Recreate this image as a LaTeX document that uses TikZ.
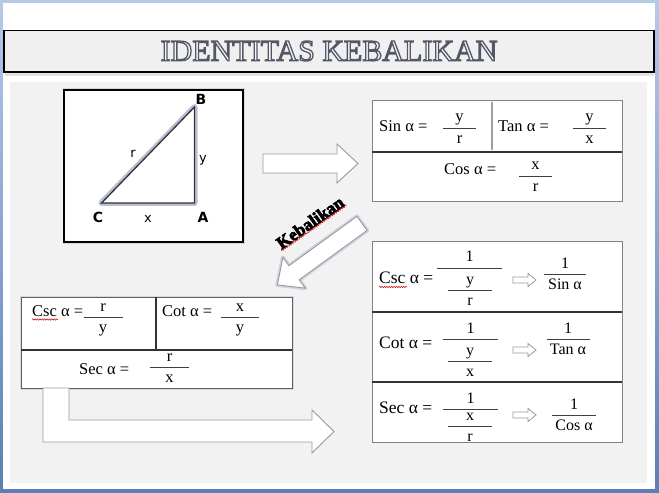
\documentclass[tikz,border=0pt]{standalone}
\usepackage{fontspec}
\setmainfont{Liberation Serif}
\newfontfamily\segitigafont{DejaVu Sans}
\usetikzlibrary{decorations.pathmorphing}

\definecolor{biruatas}{HTML}{B4CAE8}
\definecolor{birubawah}{HTML}{5A7FB6}
\definecolor{panel}{HTML}{F2F2F2}
\definecolor{judulbg}{HTML}{F0F0F0}
\definecolor{judulisi}{HTML}{F3F6FB}
\definecolor{garistabel}{HTML}{8A7F7E}
\definecolor{panahgaris}{HTML}{9A9A9A}
\definecolor{bayangan}{HTML}{B9BDD6}

\newcommand{\hurufA}{\fontsize{16.5bp}{19bp}\selectfont}
\newcommand{\hurufB}{\fontsize{17.5bp}{20bp}\selectfont}
\newcommand{\hurufC}{\fontsize{16bp}{19bp}\selectfont}
% huruf bergaris tepi (isi terang, tepi gelap)
\newcommand{\garistepi}[2]{\special{pdf:literal direct 2 Tr #1 w #2 RG}}
\newcommand{\garistepiselesai}{\special{pdf:literal direct 0 Tr}}

\tikzset{
  tulisan/.style={font=\hurufA, inner sep=0pt, anchor=base west},
  pecah/.style={font=\hurufA, inner sep=0pt, anchor=base},
  garisbagi/.style={line width=0.7bp, black!75},
  tabel/.style={draw=garistabel, fill=white, line width=0.9bp},
  sekat/.style={draw=black!80, line width=1.2bp},
  panahbesar/.style={draw=panahgaris, fill=white, line width=0.9bp, line join=miter},
  panahkecil/.style={draw=panahgaris, fill=white, line width=0.8bp},
  ombak/.style={draw=red!80!black, line width=0.5bp, decorate,
    decoration={snake, amplitude=0.7bp, segment length=2.4bp}},
  judul/.style={font=\fontsize{30bp}{32bp}\selectfont, inner sep=0pt},
  huruftitik/.style={font=\segitigafont\bfseries\fontsize{14bp}{16bp}\selectfont, inner sep=0pt},
  hurufsisi/.style={font=\segitigafont\fontsize{13bp}{15bp}\selectfont, inner sep=0pt},
}

% pembilang dengan garis bagi
\newcommand{\pembilang}[5]{%
  \draw[garisbagi] (#2-#4,#3) -- (#2+#4,#3);
  \node[pecah] (#1-atas) at (#2,#3-6) {#5};}
% pecahan lengkap
\newcommand{\pecahan}[6]{%
  \pembilang{#1}{#2}{#3}{#4}{#5}
  \node[pecah] (#1-bawah) at (#2,#3+15.5) {#6};}
% panah kecil berongga
\newcommand{\panahkecil}[2]{%
  \draw[panahkecil] (#1-11.5,#2-3) -- (#1+3.5,#2-3) -- (#1+3.5,#2-6.5) -- (#1+11.5,#2)
    -- (#1+3.5,#2+6.5) -- (#1+3.5,#2+3) -- (#1-11.5,#2+3) -- cycle;}

\begin{document}
\begin{tikzpicture}[x=1bp, y=-1bp]
  \useasboundingbox (0,0) rectangle (659,493);

  % Latar
  \shade[top color=biruatas, bottom color=birubawah] (0,0) rectangle (659,493);
  \fill[white] (3,3) rectangle (655,489);
  \fill[gray!22] (5,72) rectangle (654,76);
  \fill[panel] (10,82) rectangle (647,483);

  % Judul
  \draw[line width=1.3bp, fill=judulbg] (4,30.5) rectangle (654,72);
  \node[judul, text=judulisi] (judul) at (329,51)
    {\garistepi{1.3}{0.33 0.34 0.40}IDENTITAS KEBALIKAN\garistepiselesai};

  % Segitiga siku-siku
  \draw[line width=3bp, bayangan!60] (64,90) rectangle (243,242);
  \draw[line width=1.2bp, fill=white] (64,90) rectangle (243,242);
  \coordinate (C) at (101.5,203);
  \coordinate (A) at (194.5,203);
  \coordinate (B) at (194.5,107);
  \draw[line width=6bp, bayangan, line join=round] (C) -- (A) -- (B) -- cycle;
  \draw[line width=1.3bp, black!80, fill=white] (C) -- (A) -- (B) -- cycle;
  \node[huruftitik] (titikB) at (201,99) {B};
  \node[huruftitik] (titikC) at (98,217) {C};
  \node[huruftitik] (titikA) at (203,217) {A};
  \node[hurufsisi] (sisiR) at (133,154) {r};
  \node[hurufsisi] (sisiY) at (203,160) {y};
  \node[hurufsisi] (sisiX) at (148,219) {x};

  % Panah ke kanan
  \draw[panahbesar] (263,154) -- (337,154) -- (337,144) -- (358,163.5) -- (337,183)
    -- (337,173) -- (263,173) -- cycle;

  % Tabel Sin, Tan, Cos
  \draw[tabel] (372,100) rectangle (622,201);
  \draw[sekat] (372,152) -- (622,152);
  \draw[sekat, draw=gray!75] (492,102) -- (492,150);
  \node[tulisan] (sin) at (379,132) {Sin α =};
  \pecahan{fsin}{459.5}{128}{16.5}{y}{r}
  \node[tulisan] (tan) at (498,132) {Tan α =};
  \pecahan{ftan}{589.5}{128}{16.5}{y}{x}
  \node[tulisan] (cos) at (444,175) {Cos α =};
  \pecahan{fcos}{535.5}{176}{16.5}{x}{r}

  % Panah Kebalikan
  \begin{scope}[shift={(362,223.4)}, rotate=216]
    \draw[line width=4bp, bayangan!70, line join=round] (0,-8.7) -- (84,-8.7) -- (84,-19) -- (104.6,0)
      -- (84,19) -- (84,8.7) -- (0,8.7) -- cycle;
    \draw[panahbesar] (0,-8.7) -- (84,-8.7) -- (84,-19) -- (104.6,0)
      -- (84,19) -- (84,8.7) -- (0,8.7) -- cycle;
  \end{scope}
  \node[font=\fontsize{17.5bp}{19bp}\selectfont\bfseries, rotate=35, inner sep=0.5bp]
    (kebalikan) at (310,222.5) {\garistepi{0.7}{0 0 0}Kebalikan\garistepiselesai};
  \draw[ombak] (kebalikan.south west) -- (kebalikan.south east);

  % Tabel Csc, Cot, Sec
  \draw[line width=3bp, bayangan!60] (21,297) rectangle (292,388);
  \draw[tabel, draw=gray!75!black] (21,297) rectangle (292,388);
  \draw[sekat] (21,350) -- (292,350);
  \draw[sekat] (156,297) -- (156,350);
  \draw[sekat, line width=2.2bp] (118,350) -- (156,350);
  \node[tulisan] (csc) at (32,316) {Csc α =};
  \draw[ombak] (32,319.5) -- (58,319.5);
  \pecahan{fcsc}{103}{317}{19.5}{r}{y}
  \node[tulisan] (cot) at (162,316) {Cot α =};
  \pecahan{fcot}{240}{317}{19}{x}{y}
  \node[tulisan] (sec) at (79,374) {Sec α =};
  \pecahan{fsec}{169.5}{367}{19.5}{r}{x}

  % Panah siku
  \draw[panahbesar] (43,388) -- (69,388) -- (69,420) -- (312,420) -- (312,410) -- (334,431.5)
    -- (312,453) -- (312,442) -- (43,442) -- cycle;

  % Tabel kebalikan
  \draw[tabel] (372,241) rectangle (622,442);
  \draw[sekat] (372,312) -- (622,312);
  \draw[sekat] (372,382) -- (622,382);
  \begin{scope}[tulisan/.append style={font=\hurufB}, pecah/.append style={font=\hurufC}]
    % baris Csc
    \node[tulisan] (csc2) at (379,283) {Csc α =};
    \draw[ombak] (379,287) -- (407,287);
    \pembilang{gcsc}{469.5}{268}{32.5}{1}
    \pecahan{hcsc}{470}{290}{22}{y}{r}
    \panahkecil{524.5}{280}
    \pecahan{isin}{565}{274}{21}{1}{Sin α}
    % baris Cot
    \node[tulisan] (cot2) at (379,348) {Cot α =};
    \pembilang{gcot}{470.5}{339}{27.5}{1}
    \pecahan{hcot}{470}{361}{22}{y}{x}
    \panahkecil{524.5}{350}
    \pecahan{itan}{568}{339}{21.5}{1}{Tan α}
    % baris Sec
    \node[tulisan] (sec2) at (379,413) {Sec α =};
    \pembilang{gsec}{470.5}{409}{27.5}{1}
    \pecahan{hsec}{470}{426}{22}{x}{r}
    \panahkecil{524.5}{415}
    \pecahan{icos}{574}{415}{22}{1}{Cos α}
  \end{scope}
\end{tikzpicture}
\end{document}
